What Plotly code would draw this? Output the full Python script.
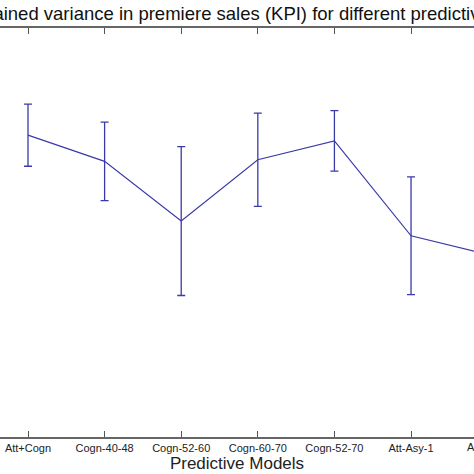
import plotly.graph_objects as go

models = ["Att+Cogn", "Cogn-40-48", "Cogn-52-60", "Cogn-60-70",
          "Cogn-52-70", "Att-Asy-1", "Att-Asy-2"]
explained = [0.369, 0.337, 0.264, 0.339, 0.362, 0.246, 0.223]
err = [0.038, 0.048, 0.091, 0.057, 0.037, 0.072, 0.06]

blue = "#3b3ba8"
idx = list(range(len(models)))

fig = go.Figure()
fig.add_trace(go.Scatter(
    x=idx,
    y=explained,
    mode="lines",
    line=dict(color=blue, width=1.2),
    error_y=dict(type="data", array=err, color=blue, thickness=1.3, width=4),
))

# last label sits past the visible right edge
fig.add_annotation(
    x=465 / 474, xref="paper", xanchor="left",
    y=0, yref="paper", yanchor="top", yshift=-2,
    text=models[6], showarrow=False,
    font=dict(size=11, color="#222"),
)

fig.update_layout(
    width=474, height=474,
    margin=dict(l=0, r=0, t=28, b=37),
    paper_bgcolor="white", plot_bgcolor="white",
    showlegend=False,
    font=dict(family="Liberation Sans, Arial, sans-serif", color="#222"),
    title=dict(
        text="Explained variance in premiere sales (KPI) for different predictive models",
        x=0.54, xanchor="center", xref="paper",
        y=1 - 14 / 474, yanchor="middle",
        font=dict(size=18.5, color="#111"),
    ),
    xaxis=dict(
        range=[-0.3655, 5.822],
        tickvals=idx[:6], ticktext=models[:6],
        ticks="inside", ticklen=6, tickcolor="#555", tickwidth=1.2,
        showline=True, linecolor="#666", linewidth=1.6, mirror="ticks",
        showgrid=False, zeroline=False,
        tickfont=dict(size=11),
        title=dict(text="Predictive Models", font=dict(size=17), standoff=2),
    ),
    yaxis=dict(
        range=[0, 0.5],
        showline=False, showticklabels=False, ticks="",
        showgrid=False, zeroline=False,
    ),
)

fig.write_html("out.html", config={"displayModeBar": False},
               post_script="document.body.style.margin='0';")
